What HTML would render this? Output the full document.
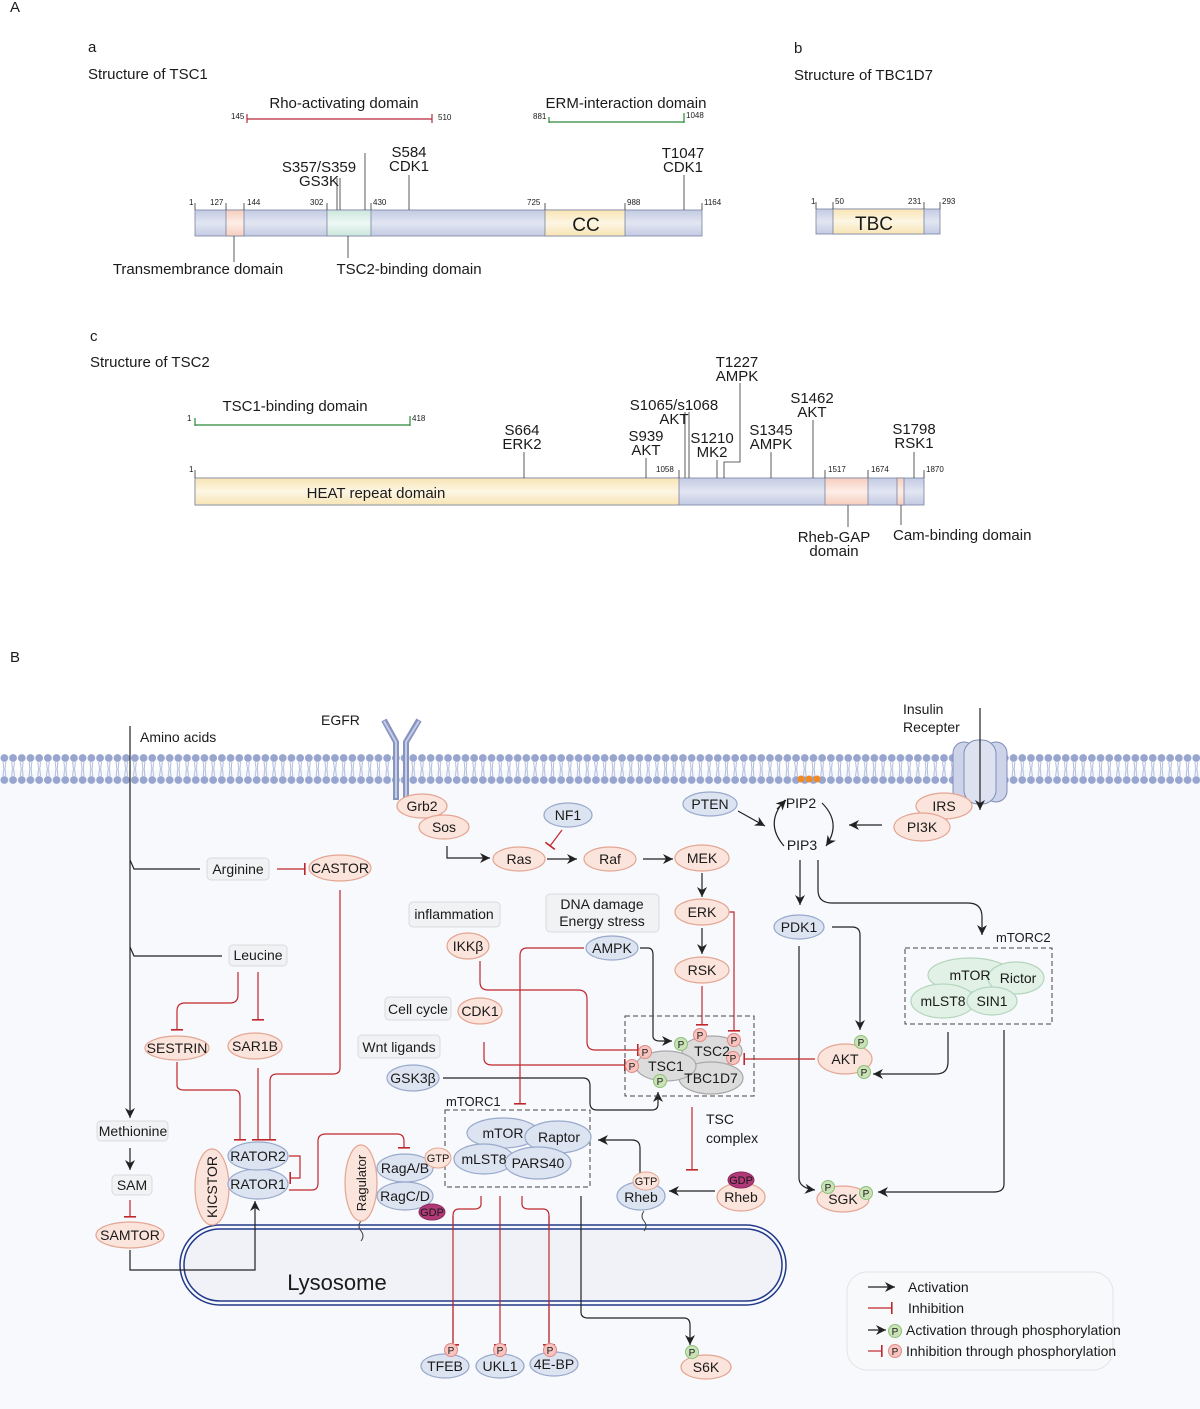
<!DOCTYPE html>
<html><head><meta charset="utf-8"><style>
html,body{margin:0;padding:0;background:#fff}
svg{display:block}
text{font-family:"Liberation Sans",sans-serif;fill:#1a1a1a}
</style></head><body>
<svg width="1200" height="1409" viewBox="0 0 1200 1409" xmlns="http://www.w3.org/2000/svg">
<defs>
<marker id="a" markerUnits="userSpaceOnUse" markerWidth="12" markerHeight="12" refX="10" refY="5" orient="auto"><path d="M0,0 L10,5 L0,10 L3,5 Z" fill="#222"/></marker>
<marker id="t" markerUnits="userSpaceOnUse" markerWidth="4" markerHeight="12" refX="2" refY="6" orient="auto"><rect x="1" y="0" width="1.6" height="12" fill="#c0272d"/></marker>
<pattern id="mem" x="0" y="752" width="8.7" height="34" patternUnits="userSpaceOnUse">
<circle cx="4.35" cy="6" r="3.9" fill="#98a5cf"/><circle cx="4.35" cy="28" r="3.9" fill="#98a5cf"/>
<path d="M3,10 L3.8,17 L3,24 M5.7,10 L5,17 L5.7,24" stroke="#a8b3d8" stroke-width="0.9" fill="none"/>
</pattern>
<linearGradient id="gb" x1="0" y1="0" x2="0" y2="1"><stop offset="0" stop-color="#c3cbe3"/><stop offset=".5" stop-color="#e2e6f2"/><stop offset="1" stop-color="#c3cbe3"/></linearGradient>
<linearGradient id="gy" x1="0" y1="0" x2="0" y2="1"><stop offset="0" stop-color="#f8e4b4"/><stop offset=".5" stop-color="#fdf6e4"/><stop offset="1" stop-color="#f8e4b4"/></linearGradient>
<linearGradient id="gp" x1="0" y1="0" x2="0" y2="1"><stop offset="0" stop-color="#f7cdbd"/><stop offset=".5" stop-color="#fdeee8"/><stop offset="1" stop-color="#f7cdbd"/></linearGradient>
<linearGradient id="gg" x1="0" y1="0" x2="0" y2="1"><stop offset="0" stop-color="#cbe6dc"/><stop offset=".5" stop-color="#eef8f4"/><stop offset="1" stop-color="#cbe6dc"/></linearGradient>
</defs>

<!-- PANEL A -->
<g font-size="15">
<text x="10" y="12">A</text>
<text x="88" y="52">a</text>
<text x="88" y="79">Structure of TSC1</text>
<text x="794" y="53">b</text>
<text x="794" y="80">Structure of TBC1D7</text>
<text x="344" y="108" text-anchor="middle">Rho-activating domain</text>
<text x="626" y="108" text-anchor="middle">ERM-interaction domain</text>
</g>
<g font-size="8">
<text x="231" y="119">145</text><text x="438" y="120">510</text>
<text x="533" y="119">881</text><text x="686" y="118">1048</text>
</g>
<path d="M247,119 H432 M247,114 V123 M432,114 V123" stroke="#b8283a" stroke-width="1.2"/>
<path d="M549,122 H684 M549,117 V123 M684,113 V123" stroke="#2a8a3a" stroke-width="1.2"/>

<g stroke="#7a82a0" stroke-width="0.8">
<rect x="195" y="210" width="507" height="26" fill="url(#gb)"/>
<rect x="226" y="210" width="18" height="26" fill="url(#gp)"/>
<rect x="327" y="210" width="44" height="26" fill="url(#gg)"/>
<rect x="545" y="210" width="80" height="26" fill="url(#gy)"/>
</g>
<text x="586" y="231" font-size="19" text-anchor="middle">CC</text>
<g stroke="#333" stroke-width="0.8">
<path d="M195,203 V210 M226,203 V210 M244,203 V210 M327,203 V210 M371,203 V210 M545,203 V210 M625,203 V210 M702,203 V210"/>
<path d="M337,178 V210 M340,178 V210 M365,153 V210 M409,175 V210 M684,175 V210"/>
<path d="M234,236 V262 M348,236 V258"/>
</g>
<g font-size="8">
<text x="189" y="205">1</text><text x="210" y="205">127</text><text x="247" y="205">144</text><text x="310" y="205">302</text><text x="373" y="205">430</text><text x="527" y="205">725</text><text x="627" y="205">988</text><text x="704" y="205">1164</text>
</g>
<g font-size="15" text-anchor="middle">
<text x="319" y="172">S357/S359</text><text x="319" y="186">GS3K</text>
<text x="409" y="157">S584</text><text x="409" y="171">CDK1</text>
<text x="683" y="158">T1047</text><text x="683" y="172">CDK1</text>
<text x="198" y="274">Transmembrance domain</text>
<text x="409" y="274">TSC2-binding domain</text>
</g>

<g stroke="#7a82a0" stroke-width="0.8">
<rect x="816" y="209" width="124" height="25" fill="url(#gb)"/>
<rect x="833" y="209" width="91" height="25" fill="url(#gy)"/>
</g>
<text x="874" y="230" font-size="19" text-anchor="middle">TBC</text>
<path d="M816,202 V209 M833,202 V209 M924,202 V209 M940,202 V209" stroke="#333" stroke-width="0.8"/>
<g font-size="8"><text x="811" y="204">1</text><text x="835" y="204">50</text><text x="908" y="204">231</text><text x="942" y="204">293</text></g>

<g font-size="15">
<text x="90" y="341">c</text>
<text x="90" y="367">Structure of TSC2</text>
<text x="295" y="411" text-anchor="middle">TSC1-binding domain</text>
</g>
<path d="M195,425 H410 M195,418 V426 M410,416 V426" stroke="#2a8a3a" stroke-width="1.2"/>
<g font-size="8"><text x="187" y="421">1</text><text x="412" y="421">418</text>
<text x="189" y="472">1</text><text x="656" y="472">1058</text><text x="828" y="472">1517</text><text x="871" y="472">1674</text><text x="926" y="472">1870</text></g>
<g stroke="#7a82a0" stroke-width="0.8">
<rect x="195" y="478" width="729" height="27" fill="url(#gb)"/>
<rect x="195" y="478" width="484" height="27" fill="url(#gy)"/>
<rect x="825" y="478" width="43" height="27" fill="url(#gp)"/>
<rect x="897" y="478" width="7" height="27" fill="url(#gp)"/>
</g>
<text x="376" y="498" font-size="15" text-anchor="middle">HEAT repeat domain</text>
<g stroke="#333" stroke-width="0.8" fill="none">
<path d="M195,470 V478 M679,470 V478 M825,470 V478 M868,470 V478 M924,470 V478"/>
<path d="M524,452 V478 M646,458 V478 M685,412 V478 M689,412 V478 M717,460 V478 M740,383 V462 H724 V478 M771,452 V478 M813,420 V478 M914,452 V478"/>
<path d="M848,505 V527 M901,505 V525"/>
</g>
<g font-size="15" text-anchor="middle">
<text x="522" y="435">S664</text><text x="522" y="449">ERK2</text>
<text x="646" y="441">S939</text><text x="646" y="455">AKT</text>
<text x="674" y="410">S1065/s1068</text><text x="674" y="424">AKT</text>
<text x="712" y="443">S1210</text><text x="712" y="457">MK2</text>
<text x="737" y="367">T1227</text><text x="737" y="381">AMPK</text>
<text x="771" y="435">S1345</text><text x="771" y="449">AMPK</text>
<text x="812" y="403">S1462</text><text x="812" y="417">AKT</text>
<text x="914" y="434">S1798</text><text x="914" y="448">RSK1</text>
<text x="834" y="542">Rheb-GAP</text><text x="834" y="556">domain</text>
<text x="893" y="540" text-anchor="start">Cam-binding domain</text>
</g>

<!-- PANEL B -->
<text x="10" y="662" font-size="15">B</text>
<rect x="0" y="770" width="1200" height="639" fill="#f7f9fc"/>
<rect x="0" y="752" width="1200" height="34" fill="url(#mem)"/>

<g stroke="#8794c0" stroke-width="6" fill="none" stroke-linejoin="round">
<path d="M396,800 V742 L384,720"/><path d="M406,800 V742 L419,720"/>
</g>
<g stroke="#c5cde6" stroke-width="2" fill="none">
<path d="M396,798 V742 L384,721"/><path d="M406,798 V742 L419,721"/>
</g>
<text x="321" y="725" font-size="14">EGFR</text>
<text x="140" y="742" font-size="14">Amino acids</text>

<text x="903" y="714" font-size="14">Insulin</text>
<text x="903" y="732" font-size="14">Recepter</text>
<g stroke="#7f8cb8" stroke-width="1" fill="#cdd4ea">
<rect x="953" y="742" width="22" height="60" rx="11"/>
<rect x="985" y="742" width="22" height="60" rx="11"/>
<rect x="964" y="740" width="32" height="64" rx="14" fill="#dde2f1"/>
</g>
<line x1="980" y1="708" x2="980" y2="810" stroke="#222" stroke-width="1.2" marker-end="url(#a)"/>

<g fill="#f08a24"><circle cx="801" cy="779" r="3.5"/><circle cx="809" cy="779" r="3.5"/><circle cx="817" cy="779" r="3.5"/></g>

<g stroke="#222" stroke-width="1.2" fill="none">
<path d="M130,726 V1118" marker-end="url(#a)"/>
<path d="M130,860 L134,869 H200"/>
<path d="M130,947 L134,956 H222"/>
<path d="M130,1148 V1170" marker-end="url(#a)"/>
<path d="M447,846 V858 H490" marker-end="url(#a)"/>
<path d="M547,859 H577" marker-end="url(#a)"/>
<path d="M643,859 H673" marker-end="url(#a)"/>
<path d="M702,873 V897" marker-end="url(#a)"/>
<path d="M702,928 V954" marker-end="url(#a)"/>
<path d="M738,811 L765,826" marker-end="url(#a)"/>
<path d="M882,825 H849" marker-end="url(#a)"/>
<path d="M785,800 Q764,823 784,846"/><path d="M777,809 L786,800" marker-end="url(#a)"/>
<path d="M822,803 Q842,823 826,846" marker-end="url(#a)"/>
<path d="M800,860 V905" marker-end="url(#a)"/>
<path d="M818,860 V890 Q818,903 832,903 H968 Q982,903 982,917 V935" marker-end="url(#a)"/>
<path d="M832,927 H852 Q860,927 860,935 V1030" marker-end="url(#a)"/>
<path d="M799,946 V1178 Q799,1188 815,1190" marker-end="url(#a)"/>
<path d="M948,1032 V1062 Q948,1074 936,1074 H873" marker-end="url(#a)"/>
<path d="M1004,1030 V1184 Q1004,1192 994,1192 H878" marker-end="url(#a)"/>
<path d="M640,948 H648 Q653,948 653,955 V1036 Q653,1041 660,1041 H672" marker-end="url(#a)"/>
<path d="M443,1078 H583 Q590,1078 590,1086 V1103 Q590,1110 597,1110 H652 Q658,1110 658,1104 V1092" marker-end="url(#a)"/>
<path d="M715,1191 H669" marker-end="url(#a)"/>
<path d="M640,1174 V1148 Q640,1140 632,1140 H598" marker-end="url(#a)"/>
</g>
<g stroke="#c0272d" stroke-width="1.2" fill="none">
<path d="M277,869 H305" marker-end="url(#t)"/>
<path d="M238,972 V995 Q238,1003 230,1003 H185 Q177,1003 177,1011 V1030" marker-end="url(#t)"/>
<path d="M258,972 V1020" marker-end="url(#t)"/>
<path d="M177,1062 V1085 Q177,1090 184,1090 H234 Q240,1090 240,1097 V1140" marker-end="url(#t)"/>
<path d="M258,1068 V1140" marker-end="url(#t)"/>
<path d="M340,890 V1068 Q340,1074 333,1074 H277 Q270,1074 270,1081 V1140" marker-end="url(#t)"/>
<path d="M289,1156 H300 V1178 H290" marker-end="url(#t)"/>
<path d="M289,1190 H312 Q318,1190 318,1183 V1141 Q318,1134 326,1134 H397 Q404,1134 404,1141 V1148" marker-end="url(#t)"/>
<path d="M130,1200 V1217" marker-end="url(#t)"/>
<path d="M562,830 L550,846" marker-end="url(#t)"/>
<path d="M702,986 V1025" marker-end="url(#t)"/>
<path d="M726,912 H734 V1031" marker-end="url(#t)"/>
<path d="M815,1059 H744" marker-end="url(#t)"/>
<path d="M480,961 V982 Q480,990 488,990 H578 Q587,990 587,999 V1042 Q587,1050 595,1050 H638" marker-end="url(#t)"/>
<path d="M484,1042 V1058 Q484,1065 492,1065 H625" marker-end="url(#t)"/>
<path d="M584,948 H527 Q520,948 520,956 V1104" marker-end="url(#t)"/>
<path d="M692,1107 V1170" marker-end="url(#t)"/>
<path d="M481,1196 V1204 Q481,1209 474,1209 H459 Q453,1209 453,1216 V1345" marker-end="url(#t)"/>
<path d="M522,1196 V1204 Q522,1209 529,1209 H543 Q549,1209 549,1216 V1345" marker-end="url(#t)"/>
</g>

<rect x="180" y="1225" width="606" height="80" rx="40" fill="none" stroke="#233a8a" stroke-width="1.5"/>
<rect x="184" y="1229" width="598" height="72" rx="36" fill="#f0f2f8" stroke="#233a8a" stroke-width="1.5"/>
<text x="337" y="1290" font-size="22" text-anchor="middle">Lysosome</text>
<path d="M361,1221 q-4,5 0,10 q4,5 0,10" stroke="#444" fill="none"/>
<path d="M644,1211 q-4,5 0,10 q4,5 0,10" stroke="#444" fill="none"/>
<path d="M581,1196 V1312 Q581,1318 588,1318 H684 Q690,1318 690,1325 V1345" stroke="#222" stroke-width="1.2" fill="none" marker-end="url(#a)"/>
<g stroke="#c0272d" stroke-width="1.2" fill="none">
<path d="M453,1216 V1345" marker-end="url(#t)"/><path d="M500,1196 V1345" marker-end="url(#t)"/><path d="M549,1216 V1345" marker-end="url(#t)"/>
</g>

<g fill="none" stroke="#444" stroke-width="1" stroke-dasharray="5,3">
<rect x="625" y="1016" width="129" height="80"/>
<rect x="445" y="1110" width="145" height="77"/>
<rect x="905" y="948" width="147" height="76"/>
</g>
<text x="446" y="1106" font-size="13">mTORC1</text>
<text x="996" y="942" font-size="13">mTORC2</text>
<text x="706" y="1124" font-size="14">TSC</text>
<text x="706" y="1143" font-size="14">complex</text>

<g fill="#f1f2f4" stroke="#d8dadf">
<rect x="207" y="858" width="62" height="22" rx="4"/>
<rect x="229" y="945" width="58" height="21" rx="4"/>
<rect x="97" y="1121" width="71" height="20" rx="4"/>
<rect x="112" y="1175" width="40" height="20" rx="4"/>
<rect x="409" y="902" width="91" height="25" rx="4"/>
<rect x="546" y="894" width="113" height="38" rx="4"/>
<rect x="385" y="997" width="66" height="23" rx="4"/>
<rect x="358" y="1035" width="82" height="23" rx="4"/>
</g>
<g font-size="14" text-anchor="middle">
<text x="238" y="874">Arginine</text>
<text x="258" y="960">Leucine</text>
<text x="133" y="1136">Methionine</text>
<text x="132" y="1190">SAM</text>
<text x="454" y="919">inflammation</text>
<text x="602" y="909">DNA damage</text>
<text x="602" y="926">Energy stress</text>
<text x="418" y="1014">Cell cycle</text>
<text x="399" y="1052">Wnt ligands</text>
</g>

<g fill="#fbe4dc" stroke="#e4a592" stroke-width="1.2">
<ellipse cx="340" cy="868" rx="31" ry="13"/>
<ellipse cx="177" cy="1048" rx="32" ry="12"/>
<ellipse cx="255" cy="1046" rx="27" ry="13"/>
<ellipse cx="130" cy="1235" rx="34" ry="13"/>
<ellipse cx="212" cy="1187" rx="17" ry="38"/>
<ellipse cx="422" cy="806" rx="25" ry="12"/>
<ellipse cx="444" cy="827" rx="25" ry="12"/>
<ellipse cx="519" cy="859" rx="26" ry="12"/>
<ellipse cx="610" cy="859" rx="26" ry="12"/>
<ellipse cx="702" cy="858" rx="27" ry="13"/>
<ellipse cx="702" cy="912" rx="27" ry="13"/>
<ellipse cx="702" cy="970" rx="27" ry="13"/>
<ellipse cx="468" cy="946" rx="21" ry="13"/>
<ellipse cx="480" cy="1011" rx="22" ry="13"/>
<ellipse cx="944" cy="806" rx="28" ry="13"/>
<ellipse cx="922" cy="827" rx="28" ry="14"/>
<ellipse cx="845" cy="1059" rx="27" ry="15"/>
<ellipse cx="843" cy="1199" rx="26" ry="13"/>
<ellipse cx="741" cy="1197" rx="24" ry="14"/>
<ellipse cx="706" cy="1367" rx="25" ry="12"/>
</g>
<g fill="#dde4f1" stroke="#98a9cc" stroke-width="1.2">
<ellipse cx="568" cy="815" rx="24" ry="12"/>
<ellipse cx="710" cy="804" rx="27" ry="12"/>
<ellipse cx="612" cy="948" rx="26" ry="12"/>
<ellipse cx="799" cy="927" rx="25" ry="12"/>
<ellipse cx="413" cy="1078" rx="26" ry="13"/>
<ellipse cx="258" cy="1184" rx="30" ry="15"/>
<ellipse cx="258" cy="1156" rx="30" ry="14"/>
<ellipse cx="405" cy="1196" rx="28" ry="14"/>
<ellipse cx="405" cy="1168" rx="28" ry="14"/>
<ellipse cx="503" cy="1133" rx="36" ry="15"/>
<ellipse cx="558" cy="1137" rx="33" ry="16"/>
<ellipse cx="484" cy="1159" rx="30" ry="15"/>
<ellipse cx="538" cy="1163" rx="33" ry="16"/>
<ellipse cx="641" cy="1196" rx="24" ry="14"/>
<ellipse cx="445" cy="1366" rx="24" ry="12"/>
<ellipse cx="500" cy="1366" rx="24" ry="12"/>
<ellipse cx="554" cy="1364" rx="24" ry="12"/>
</g>
<!-- SAMTOR -> RATOR1 activation (drawn after ellipses so arrow is visible) -->
<path d="M130,1250 V1270 H255 V1201" stroke="#222" stroke-width="1.2" fill="none" marker-end="url(#a)"/>
<ellipse cx="361" cy="1183" rx="16" ry="38" fill="#fbe4dc" stroke="#e4a592" stroke-width="1.2"/>
<g fill="#e1f1e6" stroke="#b4d5bc" stroke-width="1.2">
<ellipse cx="970" cy="975" rx="42" ry="17"/>
<ellipse cx="943" cy="1001" rx="32" ry="17"/>
<ellipse cx="1016" cy="978" rx="28" ry="16"/>
<ellipse cx="992" cy="1001" rx="25" ry="14"/>
</g>
<g fill="#dcdcdc" stroke="#a8a8a8" stroke-width="1.2">
<ellipse cx="712" cy="1051" rx="30" ry="15"/>
<ellipse cx="711" cy="1078" rx="32" ry="16"/>
<ellipse cx="666" cy="1066" rx="30" ry="15"/>
</g>
<ellipse cx="438" cy="1158" rx="13" ry="10" fill="#fbe4dc" stroke="#e4a592"/>
<ellipse cx="432" cy="1212" rx="13" ry="8" fill="#b03a78" stroke="#8c2a5e"/>
<ellipse cx="646" cy="1181" rx="13" ry="9" fill="#fbe4dc" stroke="#e4a592"/>
<ellipse cx="741" cy="1180" rx="13" ry="8" fill="#b03a78" stroke="#8c2a5e"/>

<g stroke-width="1" font-size="10" text-anchor="middle">
<g fill="#f7c4c0" stroke="#e08a86">
<circle cx="700" cy="1035" r="6.5"/><circle cx="734" cy="1040" r="6.5"/><circle cx="733" cy="1058" r="6.5"/>
<circle cx="645" cy="1052" r="6.5"/><circle cx="632" cy="1066" r="6.5"/>
<circle cx="451" cy="1350" r="6.5"/><circle cx="500" cy="1350" r="6.5"/><circle cx="550" cy="1350" r="6.5"/>
</g>
<g fill="#c9e3b6" stroke="#8fbf7c">
<circle cx="681" cy="1044" r="6.5"/><circle cx="660" cy="1081" r="6.5"/>
<circle cx="861" cy="1042" r="6.5"/><circle cx="864" cy="1072" r="6.5"/>
<circle cx="828" cy="1187" r="6.5"/><circle cx="866" cy="1193" r="6.5"/>
<circle cx="692" cy="1352" r="6.5"/>
</g>
<text x="700" y="1039">P</text><text x="734" y="1044">P</text><text x="733" y="1062">P</text><text x="645" y="1056">P</text><text x="632" y="1070">P</text>
<text x="451" y="1354">P</text><text x="500" y="1354">P</text><text x="550" y="1354">P</text>
<text x="681" y="1048">P</text><text x="660" y="1085">P</text><text x="861" y="1046">P</text><text x="864" y="1076">P</text>
<text x="828" y="1191">P</text><text x="866" y="1197">P</text><text x="692" y="1356">P</text>
</g>

<g font-size="14" text-anchor="middle">
<text x="340" y="873">CASTOR</text>
<text x="177" y="1053">SESTRIN</text>
<text x="255" y="1051">SAR1B</text>
<text x="130" y="1240">SAMTOR</text>
<text x="258" y="1161">RATOR2</text>
<text x="258" y="1189">RATOR1</text>
<text x="405" y="1173">RagA/B</text>
<text x="405" y="1201">RagC/D</text>
<text x="422" y="811">Grb2</text>
<text x="444" y="832">Sos</text>
<text x="568" y="820">NF1</text>
<text x="519" y="864">Ras</text>
<text x="610" y="864">Raf</text>
<text x="702" y="863">MEK</text>
<text x="702" y="917">ERK</text>
<text x="702" y="975">RSK</text>
<text x="468" y="951">IKKβ</text>
<text x="480" y="1016">CDK1</text>
<text x="612" y="953">AMPK</text>
<text x="413" y="1083">GSK3β</text>
<text x="710" y="809">PTEN</text>
<text x="801" y="808">PIP2</text>
<text x="802" y="850">PIP3</text>
<text x="944" y="811">IRS</text>
<text x="922" y="832">PI3K</text>
<text x="799" y="932">PDK1</text>
<text x="845" y="1064">AKT</text>
<text x="843" y="1204">SGK</text>
<text x="970" y="980">mTOR</text>
<text x="1018" y="983">Rictor</text>
<text x="943" y="1006">mLST8</text>
<text x="992" y="1006">SIN1</text>
<text x="712" y="1056">TSC2</text>
<text x="666" y="1071">TSC1</text>
<text x="711" y="1083">TBC1D7</text>
<text x="503" y="1138">mTOR</text>
<text x="559" y="1142">Raptor</text>
<text x="484" y="1164">mLST8</text>
<text x="538" y="1168">PARS40</text>
<text x="641" y="1202">Rheb</text>
<text x="741" y="1202">Rheb</text>
<text x="445" y="1371">TFEB</text>
<text x="500" y="1371">UKL1</text>
<text x="554" y="1369">4E-BP</text>
<text x="706" y="1372">S6K</text>
</g>
<g font-size="11" text-anchor="middle">
<text x="438" y="1162">GTP</text><text x="646" y="1185">GTP</text>
<text x="432" y="1216" fill="#f4d0e2">GDP</text><text x="741" y="1184" fill="#f4d0e2">GDP</text>
</g>
<text transform="translate(217,1187) rotate(-90)" font-size="14" text-anchor="middle">KICSTOR</text>
<text transform="translate(366,1183) rotate(-90)" font-size="13" text-anchor="middle">Ragulator</text>

<rect x="847" y="1272" width="266" height="98" rx="20" fill="#f8f9fa" stroke="#e3e4e6"/>
<g stroke-width="1.2" fill="none">
<path d="M868,1287 H895" stroke="#222" marker-end="url(#a)"/>
<path d="M868,1308 H892" stroke="#c0272d" marker-end="url(#t)"/>
<path d="M868,1330 H886" stroke="#222" marker-end="url(#a)"/>
<path d="M868,1351 H882" stroke="#c0272d" marker-end="url(#t)"/>
</g>
<circle cx="895" cy="1331" r="6.5" fill="#c9e3b6" stroke="#8fbf7c"/>
<circle cx="895" cy="1351" r="6.5" fill="#f7c4c0" stroke="#e08a86"/>
<g font-size="10" text-anchor="middle"><text x="895" y="1335">P</text><text x="895" y="1355">P</text></g>
<g font-size="14">
<text x="908" y="1292">Activation</text>
<text x="908" y="1313">Inhibition</text>
<text x="906" y="1335">Activation through phosphorylation</text>
<text x="906" y="1356">Inhibition through phosphorylation</text>
</g>
</svg>
</body></html>
